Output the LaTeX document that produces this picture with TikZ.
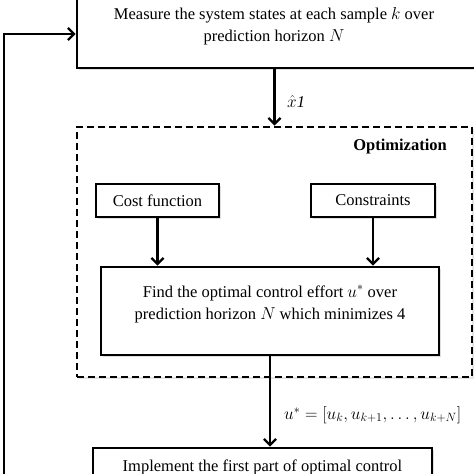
\documentclass[tikz,border=0pt]{standalone}
\usepackage{fontspec}
\setmainfont{Liberation Serif}
\usetikzlibrary{arrows.meta,shadows,calc}
\tikzset{
  box/.style={draw, line width=2.7pt, fill=white, inner sep=0pt,
    drop shadow={opacity=0.25, shadow xshift=2pt, shadow yshift=-2pt}},
  txt/.style={align=center, inner sep=0pt, font=\fontsize{16.5}{22}\selectfont},
  arr/.style={line width=2.7pt, -{Straight Barb[length=6pt,width=12pt,line width=2.4pt]}},
  dbox/.style={draw, line width=2.7pt, dash pattern=on 7pt off 4pt, inner sep=0pt,
    drop shadow={opacity=0.2, shadow xshift=2pt, shadow yshift=-2pt}, fill=white}
}
\begin{document}
\begin{tikzpicture}[x=1pt,y=-1pt]
\useasboundingbox (0,0) rectangle (474,474);
% top box
\node[box, minimum width=399pt, minimum height=84pt] (top) at (276.5,26) {};
\node[txt] (toptext) at (274,26) {Measure the system states at each sample $k$ over\\prediction horizon $N$};
% optimization dashed box
\node[dbox, minimum width=395pt, minimum height=250pt] (opt) at (274.5,252) {};
\node[inner sep=0pt, anchor=east, font=\fontsize{16.5}{20}\selectfont\bfseries] (optlabel) at (447,147) {Optimization};
% cost and constraints
\node[box, minimum width=123pt, minimum height=33pt] (cost) at (157.5,200.5) {};
\node[txt] (costtext) at (157.5,200.5) {Cost function};
\node[box, minimum width=124pt, minimum height=33pt] (cons) at (373,200.5) {};
\node[txt] (constext) at (373,200.5) {Constraints};
% find box
\node[box, minimum width=338pt, minimum height=88pt] (find) at (270,311) {};
\node[txt] (findtext) at (270,304) {Find the optimal control effort $u^{*}$ over\\prediction horizon $N$ which minimizes 4};
% bottom box
\node[box, minimum width=339pt, minimum height=80pt] (bot) at (262.5,488) {};
\node[txt, anchor=base] (bottext) at (262.5,471) {Implement the first part of optimal control};
% arrows
\draw[arr] (opt.north |- top.south) -- (opt.north);
\node[txt, anchor=west] (xlab) at (287,101) {$\hat{x}\mathit{1}$};
\draw[arr] (cost.south) -- (cost.south |- find.north);
\draw[arr] (cons.south) -- (cons.south |- find.north);
\draw[arr] (find.south) -- (find.south |- bot.north);
\node[txt, anchor=west] (ulab) at (284,415) {$u^{*}=[u_k,u_{k+1},\ldots,u_{k+N}]$};
% feedback
\coordinate (fbs) at (4,480);
\draw[arr] (fbs) |- ($(top.west)+(0,8)$);
\end{tikzpicture}
\end{document}
